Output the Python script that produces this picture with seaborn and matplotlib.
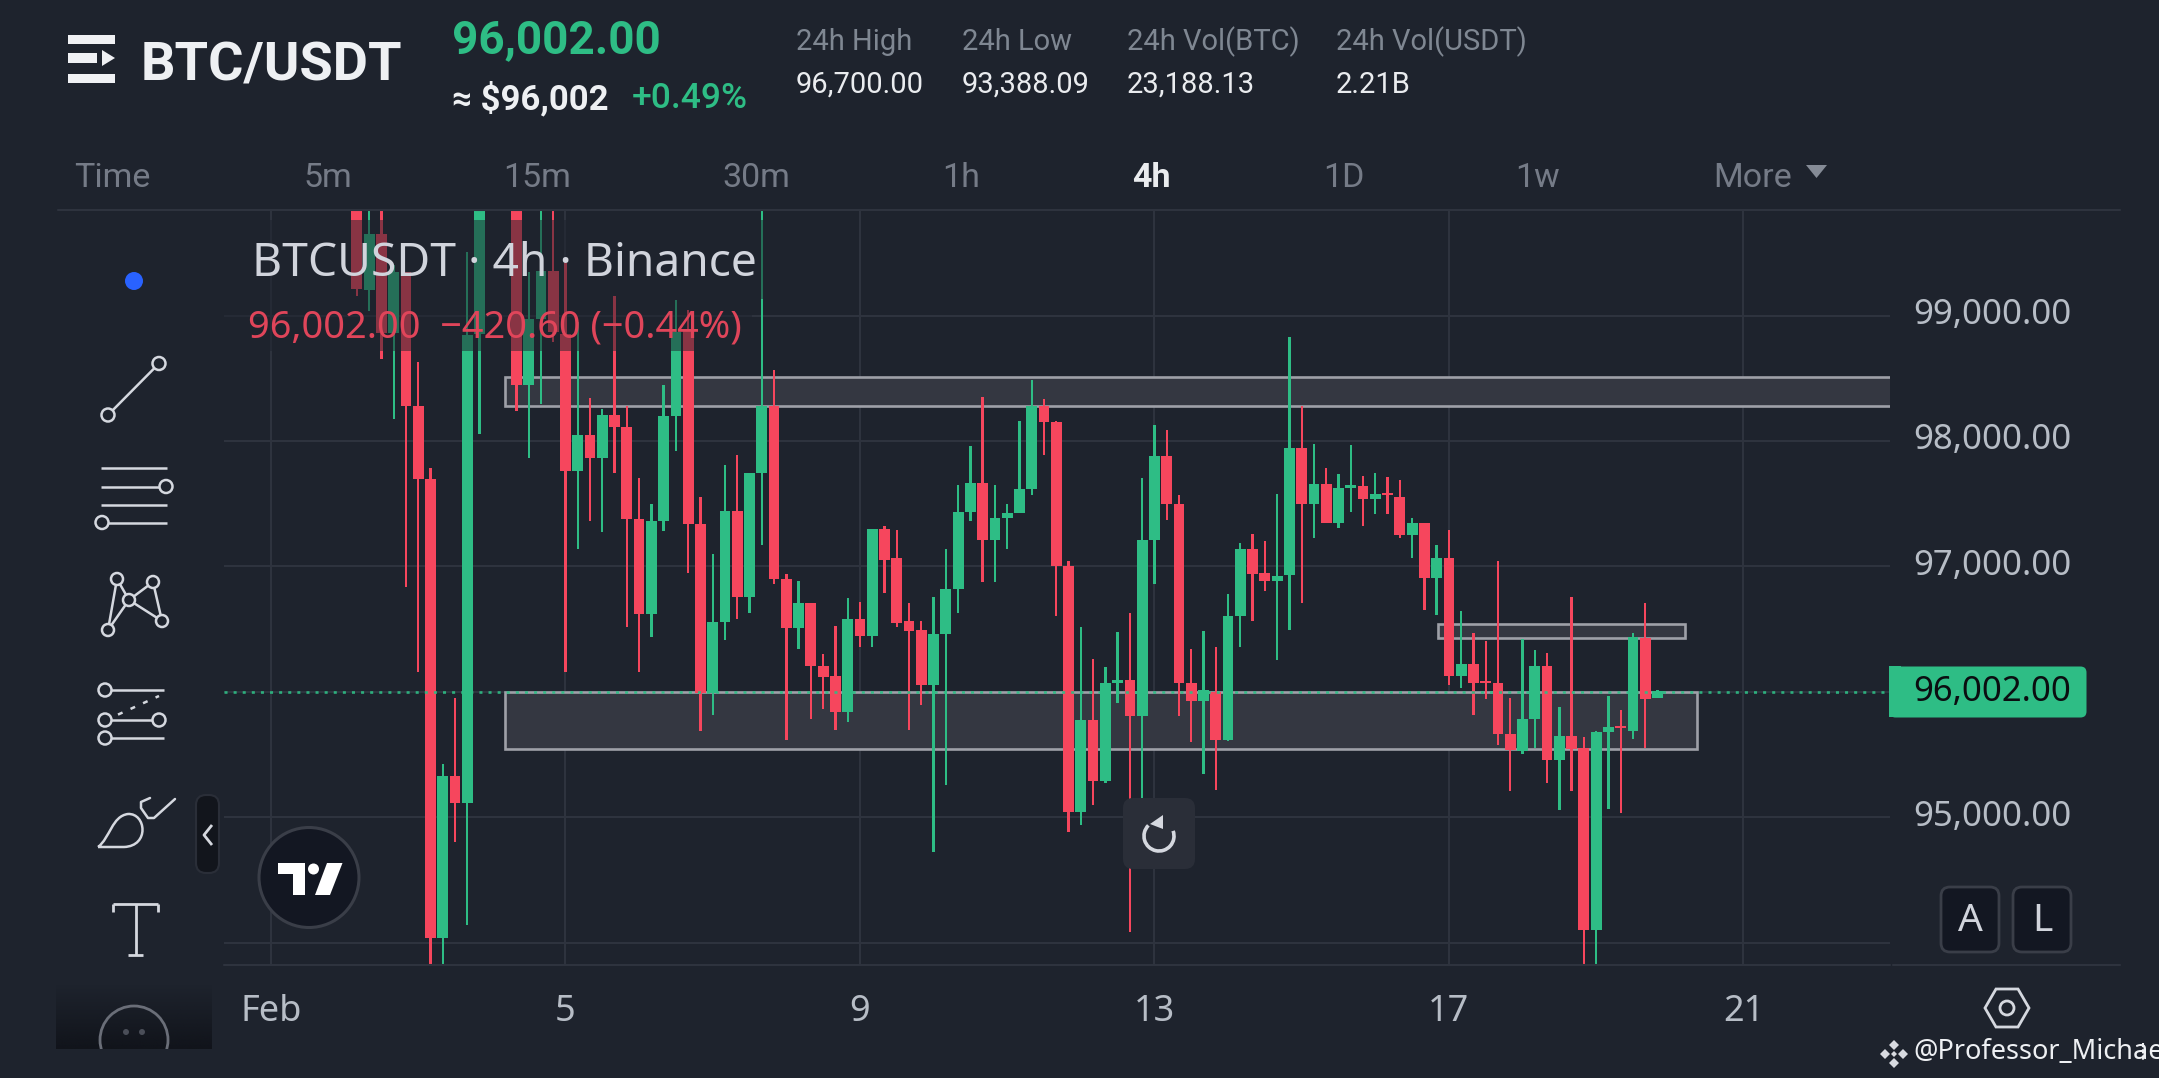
import numpy as np
import pandas as pd
import matplotlib
matplotlib.use("Agg")
import matplotlib.pyplot as plt
import seaborn as sns
from matplotlib.path import Path
from matplotlib.patches import Rectangle, FancyBboxPatch, Circle, Ellipse, Arc, Polygon, PathPatch
from matplotlib.transforms import ScaledTranslation

# 4h candles, numbered from Feb 1 00:00
first_candle = 7
opens = [100100, 99204, 99650, 98861, 99347, 98276, 97700, 94038, 95331, 95109, 98855, 100100, 100300, 100150,
         98446, 98974, 99358, 98853, 97760, 98049, 97867, 98208, 98113, 97375, 96617, 97363, 98200, 98885, 97335,
         95994, 96558, 97442, 96756, 97748, 98282, 96901, 96507, 96706, 96207, 96123, 95839, 96582, 96442, 97298,
         97064, 96562, 96491, 96054, 96461, 96816, 97432, 97663, 97214, 97383, 97429, 97614, 98275, 98152, 96999,
         95041, 95774, 95292, 96070, 96093, 95810, 97207, 97878, 97494, 96070, 95924, 96002, 95618, 96608, 97135,
         96943, 96881, 96929, 97942, 97499, 97655, 97347, 97627, 97638, 97534, 97582, 97551, 97250, 97344, 96911,
         97063, 96123, 96220, 96085, 96068, 95660, 95528, 95784, 96203, 95459, 95646, 95552, 94104, 95680, 95725,
         95684, 96427, 95947]
highs = [100250, 100000, 100000, 99400, 99347, 98633, 97788, 95427, 95954, 99509, 100200, 100500, 100450, 100300,
         99347, 100000, 100000, 99419, 98951, 98343, 98256, 99158, 98276, 97708, 97494, 98446, 99124, 99044, 97550,
         97097, 97807, 97887, 97748, 100000, 98568, 96940, 96881, 96706, 96298, 96523, 96751, 96712, 97298, 97324,
         97292, 96706, 96565, 96758, 97135, 97647, 97956, 98347, 97647, 97494, 98158, 98484, 98331, 98160, 97044,
         96513, 96263, 96194, 96474, 96631, 97702, 98126, 98086, 97565, 96337, 96481, 96360, 96777, 97188, 97256,
         97201, 97575, 98831, 98277, 97973, 97783, 97734, 97966, 97721, 97741, 97714, 97686, 97389, 97344, 97174,
         97292, 96642, 96469, 96403, 97043, 95950, 96420, 96331, 96306, 95881, 96759, 95639, 95687, 95964, 95853,
         96469, 96704, 96010]
lows = [99158, 99036, 98653, 98175, 96835, 96161, 93820, 93820, 94804, 94141, 98055, 99950, 100000, 98239,
        97867, 98294, 98789, 96161, 97137, 97363, 97272, 97748, 96518, 96161, 96438, 97284, 97919, 96946, 95685,
        95812, 96411, 96577, 96629, 97171, 96859, 95614, 96337, 95784, 95865, 95696, 95758, 96360, 96360, 96784,
        96517, 95696, 95891, 94719, 95259, 96631, 97363, 96875, 96875, 97135, 97429, 97569, 97885, 96605, 94878,
        94937, 95097, 95272, 95914, 94087, 95051, 96859, 97373, 95803, 95601, 95341, 95220, 95608, 96360, 96562,
        96800, 96256, 96496, 96711, 97226, 97347, 97309, 97437, 97319, 97420, 97420, 97223, 97067, 96649, 96614,
        96057, 96030, 95812, 95943, 95573, 95210, 95501, 95552, 95269, 95058, 95210, 93827, 93827, 95065, 95034,
        95622, 95552, 95947]
closes = [99209, 99650, 98861, 99347, 98275, 97700, 94038, 95331, 95109, 98846, 100100, 100300, 100150, 98446,
          98974, 99358, 98871, 97760, 98049, 97867, 98208, 98113, 97375, 96617, 97363, 98200, 98869, 97335, 95994,
          96558, 97442, 96756, 97748, 98282, 96898, 96507, 96706, 96204, 96116, 95839, 96582, 96442, 97298, 97054,
          96549, 96481, 96054, 96461, 96816, 97432, 97663, 97214, 97383, 97429, 97614, 98275, 98152, 96999, 95041,
          95774, 95292, 96070, 96093, 95810, 97207, 97878, 97494, 96067, 95924, 96012, 95618, 96608, 97135, 96937,
          96881, 96924, 97942, 97499, 97655, 97347, 97624, 97645, 97534, 97579, 97568, 97250, 97344, 96911, 97067,
          96123, 96220, 96068, 96068, 95660, 95535, 95784, 96203, 95459, 95646, 95542, 94104, 95680, 95715, 95708,
          96434, 95943, 96002]

price_ticks = [94000, 95000, 96000, 97000, 98000, 99000]
price_labels = ["", "95,000.00", "", "97,000.00", "98,000.00", "99,000.00"]
date_ticks = [0, 24, 48, 72, 96, 120]
date_labels = ["Feb", "5", "9", "13", "17", "21"]
last_price = 96002
zone_top = (98282, 98513)
zone_mid = (96431, 96538)
zone_low = (95546, 96002)

tabs = ["Time", "5m", "15m", "30m", "1h", "4h", "1D", "1w", "More"]
stat_names = ["24h High", "24h Low", "24h Vol(BTC)", "24h Vol(USDT)"]
stat_values = ["96,700.00", "93,388.09", "23,188.13", "2.21B"]

BG = "#1e232d"
GREEN = "#2ebd85"
RED = "#f6465d"
GRID = "#2e333e"
ICON = "#d5d8df"
W, H = 2159, 1078

sns.set_theme(style="darkgrid", rc={
    "axes.facecolor": BG, "figure.facecolor": BG, "grid.color": GRID, "grid.linewidth": 1.5,
    "axes.edgecolor": BG,
})
plt.rcParams["font.family"] = ["Noto Sans", "DejaVu Sans"]

fig = plt.figure(figsize=(W / 100, H / 100), dpi=100)

# main chart axes sits at exact pixel box of the chart pane
left, right, top, bottom = 224, 1890, 210, 966
ax = fig.add_axes([left / W, 1 - bottom / H, (right - left) / W, (bottom - top) / H])

df = pd.DataFrame({"open": opens, "high": highs, "low": lows, "close": closes})
df["candle"] = np.arange(first_candle, first_candle + len(df))
df["body_low"] = df[["open", "close"]].min(axis=1)
df["body_high"] = df[["open", "close"]].max(axis=1)
df["up"] = df["close"] >= df["open"]


def draw_candles(frame, color):
    sns.barplot(data=frame.assign(span=frame["high"] - frame["low"]), x="candle", y="span", bottom=frame["low"].values,
                native_scale=True, orient="x", errorbar=None, color=color, saturation=1, width=0.19,
                linewidth=0, ax=ax, zorder=4)
    sns.barplot(data=frame.assign(body=frame["body_high"] - frame["body_low"]), x="candle", y="body",
                bottom=frame["body_low"].values, native_scale=True, orient="x", errorbar=None, color=color,
                saturation=1, width=0.88, linewidth=0, ax=ax, zorder=5)


# zones drawn by hand on the chart
for (lo, hi), x0, x1 in [(zone_top, 19.05, 140), (zone_low, 19.05, 116.2), (zone_mid, 95.1, 115.2)]:
    ax.add_patch(Rectangle((x0, lo), x1 - x0, hi - lo, facecolor="#343741", edgecolor="#9ea0a8", linewidth=1.9, zorder=3))

draw_candles(df[df["up"]], GREEN)
draw_candles(df[~df["up"]], RED)

ax.axhline(last_price, color=GREEN, lw=1.9, linestyle=(0, (1.15, 2.3)), zorder=6, alpha=0.9)

ax.set_xlim((left - 271) / 12.27, (right - 271) / 12.27)
ax.set_ylim(96002 + (691.5 - bottom) * 7.974, 96002 + (691.5 - top) * 7.974)
ax.set_xticks(date_ticks)
ax.set_xticklabels([])
ax.set_yticks(price_ticks)
ax.set_yticklabels(price_labels)
ax.yaxis.tick_right()
ax.tick_params(axis="y", length=0, pad=16.5, labelsize=25, labelcolor="#b7bdc6")
ax.tick_params(axis="x", length=0)
ax.set_xlabel("")
ax.set_ylabel("")
sns.despine(ax=ax, left=True, bottom=True)
for lab in ax.get_yticklabels():
    lab.set_transform(lab.get_transform() + ScaledTranslation(0, 4.5 / 100, fig.dpi_scale_trans))

# pixel overlay for the app chrome
ov = fig.add_axes([0, 0, 1, 1], zorder=10)
ov.set_xlim(0, W)
ov.set_ylim(H, 0)
ov.axis("off")
ov.patch.set_alpha(0)

# dim bands behind the chart legend
ov.add_patch(Rectangle((224, 220), 544, 79, facecolor=BG, alpha=0.5, lw=0))
ov.add_patch(Rectangle((224, 299), 528, 52, facecolor=BG, alpha=0.5, lw=0))

ov.plot([58, 2120], [210, 210], color=GRID, lw=1.5)
ov.plot([224, 1890], [965, 965], color=GRID, lw=1.5)
ov.plot([1893, 2120], [965, 965], color=GRID, lw=1.5)

# header
for y0, y1, x1 in [(35, 44, 115), (74, 83, 115), (53, 63, 97)]:
    ov.add_patch(Rectangle((68, y0), x1 - 68, y1 - y0, color="#f0f1f4", lw=0))
ov.add_patch(Polygon([(102, 50), (115, 58), (102, 66)], color="#f0f1f4", lw=0))
ov.text(141, 66, "BTC/USDT", color="#eef0f3", fontsize=39, fontweight="bold", family="Roboto", va="center")
ov.text(452, 40, "96,002.00", color=GREEN, fontsize=33, fontweight="bold", family="Roboto", va="center")
ov.text(452, 99, "≈ $96,002", color="#eef0f3", fontsize=25, fontweight="bold", family="Roboto", va="center")
ov.text(632, 99, "+0.49%", color=GREEN, fontsize=25.5, fontweight="medium", family="Roboto", va="center")
for name, value, xp in zip(stat_names, stat_values, [796, 962, 1127, 1336]):
    ov.text(xp, 42, name, color="#7f8792", fontsize=21, va="center", family="Roboto")
    ov.text(xp, 85, value, color="#eaecef", fontsize=21, va="center", family="Roboto")

# timeframe tabs
for tab, xp in zip(tabs, [112, 328, 537, 756, 961, 1151, 1344, 1538, 1753]):
    is_on = tab == "4h"
    ov.text(xp, 178, tab, color="#eaecef" if is_on else "#757b87", fontsize=24.5, ha="center", va="center",
            fontweight="bold" if is_on else "normal", family="Roboto")
ov.add_patch(Polygon([(1806, 165), (1827, 165), (1816.5, 178)], color="#858b96", lw=0))

# chart legend
ov.text(252, 264, "BTCUSDT · 4h · Binance", color="#d1d4dc", fontsize=33.3, va="center")
ov.text(248, 328, "96,002.00  −420.60 (−0.44%)", color="#e0455a", fontsize=27.3, va="center")

# date labels
for lab, tick in zip(date_labels, date_ticks):
    xp = 271 + tick * 12.27
    ov.text(xp, 1012, lab, color="#b7bdc6", fontsize=26, ha="center", va="center",
            fontweight="bold" if lab == "Feb" else "normal")

# price tag
ov.add_patch(FancyBboxPatch((1893, 670), 190, 44, boxstyle="round,pad=3.5,rounding_size=6", color=GREEN, lw=0))
ov.add_patch(Rectangle((1889, 666), 12, 51, color=GREEN, lw=0))
ov.text(1913, 692, "96,002.00", color="#0b0e11", fontsize=25, va="center")

# A / L buttons
for lab, x0 in [("A", 1941), ("L", 2013)]:
    ov.add_patch(FancyBboxPatch((x0 + 7, 894), 44, 51, boxstyle="round,pad=7,rounding_size=9", facecolor="#131722",
                                edgecolor="#3a3e48", lw=2))
    ov.text(x0 + 29, 921, lab, color="#d1d4dc", fontsize=28, ha="center", va="center")

# settings hexagon
ov.add_patch(Polygon([(1985, 1008), (1996, 989), (2018, 989), (2029, 1008), (2018, 1027), (1996, 1027)], fill=False,
                     edgecolor=ICON, lw=2))
ov.add_patch(Circle((2007, 1008), 7, fill=False, edgecolor=ICON, lw=2))

# watermark, last letter is cut down to a sliver in the source
ov.text(1913, 1052, "@Professor_Michae", color="#eef0f3", fontsize=19.5, va="center")
ov.plot([2143, 2143], [1043, 1061], color="#eef0f3", lw=1.5, linestyle=(0, (2, 1)))
for dx, dy, r in [(0, -9, 5), (-9, 0, 5), (9, 0, 5), (0, 9, 5), (0, 0, 3)]:
    ov.add_patch(Polygon([(1894 + dx, 1054 + dy - r), (1894 + dx + r, 1054 + dy), (1894 + dx, 1054 + dy + r),
                          (1894 + dx - r, 1054 + dy)], color="#d8dae0", lw=0))

# TradingView badge
ov.add_patch(Ellipse((309, 877.5), 100, 100, facecolor="#131722", edgecolor="#3a3e48", lw=2.2))
ov.add_patch(Polygon([(278, 863), (305, 863), (305, 895), (293, 895), (293, 874), (278, 874)], color="white", lw=0))
ov.add_patch(Circle((313.5, 869), 5.5, color="white", lw=0))
ov.add_patch(Polygon([(327, 863), (342.5, 863), (330, 895), (315, 895)], color="white", lw=0))

# reset button
ov.add_patch(FancyBboxPatch((1131, 806), 56, 55, boxstyle="round,pad=8,rounding_size=10", facecolor="#2a2e38", lw=0))
ov.add_patch(Arc((1159, 836), 30, 30, angle=0, theta1=-20 + 0, theta2=225, color=ICON, lw=2.6))
ov.add_patch(Polygon([(1150, 824), (1163, 815), (1163, 829)], color=ICON, lw=0))

# sidebar tools
ov.add_patch(Circle((134, 281), 9, color="#2962ff", lw=0))


def node(x, y, r=6.5):
    ov.add_patch(Circle((x, y), r, facecolor=BG, edgecolor=ICON, lw=1.8, zorder=5))


def seg(xs, ys, lw=1.8):
    ov.plot(xs, ys, color=ICON, lw=lw, solid_capstyle="butt")


seg([108, 159], [415, 363.5])
node(108, 415)
node(159, 363.5)

for yp, x0, x1 in [(468, 101, 167), (486.5, 101, 166), (504.5, 101, 167), (522.5, 102, 167)]:
    seg([x0, x1], [yp, yp])
node(166, 486.5)
node(102, 522.5)

pts = {"a": (117, 579), "b": (153, 582), "c": (129, 600), "d": (108, 630), "e": (162, 621)}
for p, q in ["ad", "ac", "cd", "cb", "be", "ce"]:
    seg([pts[p][0], pts[q][0]], [pts[p][1], pts[q][1]])
for xp, yp in pts.values():
    node(xp, yp, 6)

for yp in [690, 720, 738]:
    seg([105, 164], [yp, yp])
ov.plot([118, 159], [714.6, 696], color=ICON, lw=1.8, linestyle=(0, (2, 3.5)))
node(105, 690)
node(105, 720)
node(159, 720)
node(105, 738)

# brush tool
brush = Path([(98, 847), (110, 838), (112, 816), (128, 814), (146, 813), (150, 846), (124, 847), (98, 847)],
             [Path.MOVETO, Path.CURVE4, Path.CURVE4, Path.CURVE4, Path.CURVE4, Path.CURVE4, Path.CURVE4, Path.LINETO])
ov.add_patch(PathPatch(brush, fill=False, edgecolor=ICON, lw=1.8))
ov.plot([150, 141, 141, 148, 154, 175], [798, 802, 808, 818, 818, 799], color=ICON, lw=1.8)

seg([113, 158], [904, 904], lw=2)
seg([136, 136], [904, 955], lw=2)
seg([128, 143], [955, 955], lw=2)
seg([113, 113], [904, 912], lw=2)
seg([158, 158], [904, 912], lw=2)

# collapse handle
ov.add_patch(FancyBboxPatch((204, 803), 7, 62, boxstyle="round,pad=8,rounding_size=10", facecolor="#12151c",
                            edgecolor="#2a2e38", lw=1.5))
seg([212, 204, 212], [825, 835, 845], lw=2)

# fade at the bottom of the toolbar
fade = np.zeros((64, 2, 4))
fade[..., :3] = matplotlib.colors.to_rgb("#11141b")
fade[..., 3] = np.linspace(0, 1, 64)[:, None]
ov.imshow(fade, extent=(56, 212, 1049, 984), aspect="auto", zorder=1)
ov.set_xlim(0, W)
ov.set_ylim(H, 0)
smile = Circle((134, 1040), 34, fill=False, edgecolor="#6a6e78", lw=2, zorder=2)
ov.add_patch(smile)
smile.set_clip_path(Rectangle((56, 984), 156, 65, transform=ov.transData))
for xp in [126, 142]:
    ov.add_patch(Circle((xp, 1032), 3, color="#4a4e58", lw=0, zorder=2))

fig.savefig("out.png", dpi=100, facecolor=BG)
